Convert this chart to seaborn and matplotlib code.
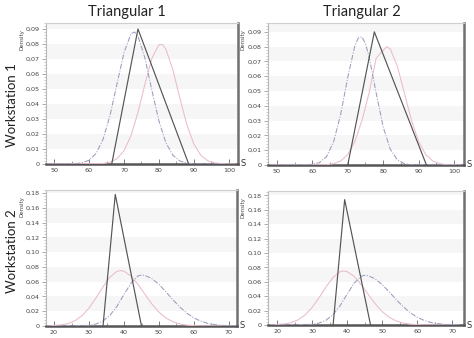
import numpy as np
import pandas as pd
import matplotlib
matplotlib.use("Agg")
import matplotlib.pyplot as plt
import seaborn as sns
from matplotlib.ticker import MultipleLocator, FuncFormatter

# ---------------- data ----------------
col_titles = ["Triangular 1", "Triangular 2"]
row_titles = ["Workstation 1", "Workstation 2"]

# Workstation 1 / Triangular 1
tl_tri_x = [66.5, 74.0, 88.5]
tl_tri_y = [0.0, 0.090, 0.0]
tl_blue_x = [48, 56, 58, 60, 62, 64, 66, 68, 70, 72, 73, 74, 76, 78, 80, 82, 84, 86, 88, 90, 102]
tl_blue_y = [0.0, 0.0002, 0.0008, 0.0025, 0.0070, 0.0164, 0.0323, 0.0534, 0.0742, 0.0868, 0.0880,
             0.0853, 0.0705, 0.0489, 0.0286, 0.0140, 0.0058, 0.0020, 0.0006, 0.0001, 0.0]
tl_pink_x = [48, 64, 66, 68, 70, 72, 74, 76, 78, 80, 81, 82, 84, 86, 88, 90, 92, 94, 96, 98, 102]
tl_pink_y = [0.0, 0.0003, 0.0012, 0.0035, 0.0088, 0.0189, 0.0344, 0.0534, 0.0706, 0.0796, 0.0796,
             0.0765, 0.0626, 0.0437, 0.0260, 0.0132, 0.0057, 0.0021, 0.0007, 0.0002, 0.0]

# Workstation 1 / Triangular 2
tr_tri_x = [70.0, 77.5, 92.2]
tr_tri_y = [0.0, 0.090, 0.0]
tr_blue_x = [48, 60, 62, 64, 66, 68, 70, 72, 73, 74, 75, 76, 78, 80, 82, 84, 86, 88, 102]
tr_blue_y = [0.0, 0.0004, 0.0016, 0.0056, 0.0156, 0.0342, 0.0592, 0.0806, 0.0860, 0.0866, 0.0821,
             0.0733, 0.0489, 0.0257, 0.0107, 0.0035, 0.0009, 0.0002, 0.0]
tr_pink_x = [48, 64, 66, 68, 70, 72, 74, 76, 78, 79, 80, 81, 82, 84, 86, 88, 90, 92, 94, 96, 98, 102]
tr_pink_y = [0.0, 0.0002, 0.0009, 0.0027, 0.0071, 0.0158, 0.0300, 0.0485, 0.0720, 0.0750, 0.0775,
             0.0800, 0.0784, 0.0668, 0.0485, 0.0300, 0.0158, 0.0071, 0.0027, 0.0009, 0.0002, 0.0]

# Workstation 2 (same fitted curves in both columns)
ws2_pink_x = [18, 22, 24, 26, 28, 30, 32, 34, 36, 38, 39, 40, 42, 44, 46, 48, 50, 52, 54, 56, 58,
              60, 62, 72]
ws2_pink_y = [0.0, 0.0014, 0.0033, 0.0072, 0.0140, 0.0244, 0.0380, 0.0530, 0.0662, 0.0740, 0.0750,
              0.0741, 0.0676, 0.0563, 0.0427, 0.0296, 0.0187, 0.0108, 0.0057, 0.0027, 0.0012,
              0.0005, 0.0002, 0.0]
ws2_blue_x = [18, 30, 32, 34, 36, 38, 40, 42, 44, 45, 46, 48, 50, 52, 54, 56, 58, 60, 62, 64, 66,
              68, 70, 72]
ws2_blue_y = [0.0, 0.0009, 0.0027, 0.0067, 0.0145, 0.0269, 0.0427, 0.0580, 0.0677, 0.0690, 0.0684,
              0.0641, 0.0562, 0.0461, 0.0355, 0.0255, 0.0172, 0.0109, 0.0064, 0.0035, 0.0018,
              0.0009, 0.0004, 0.0]
bl_tri_x = [34.0, 37.5, 45.0]
bl_tri_y = [0.0, 0.178, 0.0]
br_tri_x = [36.0, 39.3, 46.7]
br_tri_y = [0.0, 0.174, 0.0]

top_xticks = [50, 60, 70, 80, 90, 100]
bot_xticks = [20, 30, 40, 50, 60, 70]
top_yticks = [0, 0.01, 0.02, 0.03, 0.04, 0.05, 0.06, 0.07, 0.08, 0.09]
bot_yticks = [0, 0.02, 0.04, 0.06, 0.08, 0.10, 0.12, 0.14, 0.16, 0.18]

# ---------------- styling ----------------
sns.set_theme(style="white")
plt.rcParams["font.family"] = ["Lato", "DejaVu Sans"]

W, H = 474, 338
fig = plt.figure(figsize=(W / 100, H / 100), dpi=100)
fig.patch.set_facecolor("white")


def rect(l, t, r, b):
    return [l / W, 1 - b / H, (r - l) / W, (b - t) / H]


TRI_C = "#555555"
BLUE_C = "#9a9dbb"
PINK_C = "#ebbccb"

panels = [
    dict(r=rect(46, 23, 238, 164), xlim=(47.7, 102.6), ylim=(0, 0.094), xt=top_xticks, yt=top_yticks,
         step=0.01, tri=(tl_tri_x, tl_tri_y), blue=(tl_blue_x, tl_blue_y), pink=(tl_pink_x, tl_pink_y)),
    dict(r=rect(268, 23, 464, 165), xlim=(47.5, 102.8), ylim=(0, 0.096), xt=top_xticks, yt=top_yticks,
         step=0.01, tri=(tr_tri_x, tr_tri_y), blue=(tr_blue_x, tr_blue_y), pink=(tr_pink_x, tr_pink_y)),
    dict(r=rect(46, 190, 237, 326), xlim=(17.7, 72.3), ylim=(0, 0.184), xt=bot_xticks, yt=bot_yticks,
         step=0.02, tri=(bl_tri_x, bl_tri_y), blue=(ws2_blue_x, ws2_blue_y), pink=(ws2_pink_x, ws2_pink_y)),
    dict(r=rect(268, 191, 464, 325), xlim=(17.4, 73.4), ylim=(0, 0.186), xt=bot_xticks, yt=bot_yticks,
         step=0.02, tri=(br_tri_x, br_tri_y), blue=(ws2_blue_x, ws2_blue_y), pink=(ws2_pink_x, ws2_pink_y)),
]


def fmt(v, pos):
    if abs(v) < 1e-9:
        return "0"
    return f"{v:.2f}".replace(".", ",")


for p in panels:
    ax = fig.add_axes(p["r"])
    ax.set_facecolor("white")
    step = p["step"]
    # alternating faint bands
    k = 0
    y0 = 0.0
    while y0 < p["ylim"][1]:
        if k % 2 == 1:
            ax.axhspan(y0, y0 + step, color="#f6f6f6", zorder=0, lw=0)
        y0 += step
        k += 1

    tx, ty = p["pink"]
    sns.lineplot(x=tx, y=ty, ax=ax, color=PINK_C, lw=0.75, sort=False, estimator=None, zorder=3)
    bx, by = p["blue"]
    sns.lineplot(x=bx, y=by, ax=ax, color=BLUE_C, lw=0.75, sort=False, estimator=None, zorder=4,
                 linestyle=(0, (5, 1.5, 1, 1.5)))
    rx, ry = p["tri"]
    sns.lineplot(x=rx, y=ry, ax=ax, color=TRI_C, lw=0.85, sort=False, estimator=None, zorder=5)

    ax.set_xlim(*p["xlim"])
    ax.set_ylim(*p["ylim"])
    ax.set_xticks(p["xt"])
    ax.set_yticks(p["yt"])
    ax.xaxis.set_minor_locator(MultipleLocator(5))
    ax.yaxis.set_minor_locator(MultipleLocator(step / 5))
    ax.yaxis.set_major_formatter(FuncFormatter(fmt))
    ax.set_xlabel("")
    ax.set_ylabel("")

    ax.tick_params(axis="y", which="major", direction="out", length=3, width=0.5, color="#8a8a8a",
                   labelsize=4.6, labelcolor="#444444", pad=1.5, left=True)
    ax.tick_params(axis="y", which="minor", direction="out", length=1.6, width=0.4, color="#a0a0a0",
                   left=True)
    ax.tick_params(axis="x", which="major", direction="in", length=3.5, width=0.6, color="#666666",
                   labelsize=4.6, labelcolor="#444444", pad=3, bottom=True)
    ax.tick_params(axis="x", which="minor", direction="in", length=2, width=0.5, color="#777777",
                   bottom=True)
    for lab in ax.get_xticklabels() + ax.get_yticklabels():
        lab.set_family(["DejaVu Sans"])

    for side, c, lw in [("top", "#cfcfcf", 0.8), ("left", "#b8b8b8", 0.8),
                        ("right", "#707070", 1.8), ("bottom", "#555555", 1.8)]:
        ax.spines[side].set_visible(True)
        ax.spines[side].set_color(c)
        ax.spines[side].set_linewidth(lw)

    ax.text(-0.125, 0.88, "Density", rotation=90, transform=ax.transAxes, fontsize=4,
            color="#444444", ha="center", va="center", family=["DejaVu Sans"])
    ax.text(1.015, 0.0, "S", transform=ax.transAxes, fontsize=6, color="#333333",
            ha="left", va="center", family=["DejaVu Sans"])

fig.text(127 / W, 1 - 12 / H, col_titles[0], fontsize=10.5, color="#222222", ha="center", va="center")
fig.text(362 / W, 1 - 12 / H, col_titles[1], fontsize=10.5, color="#222222", ha="center", va="center")
fig.text(12 / W, 1 - 105 / H, row_titles[0], fontsize=9.5, color="#222222", ha="center", va="center",
         rotation=90)
fig.text(12 / W, 1 - 251 / H, row_titles[1], fontsize=9.5, color="#222222", ha="center", va="center",
         rotation=90)

fig.savefig("out.png", dpi=100, facecolor="white")
